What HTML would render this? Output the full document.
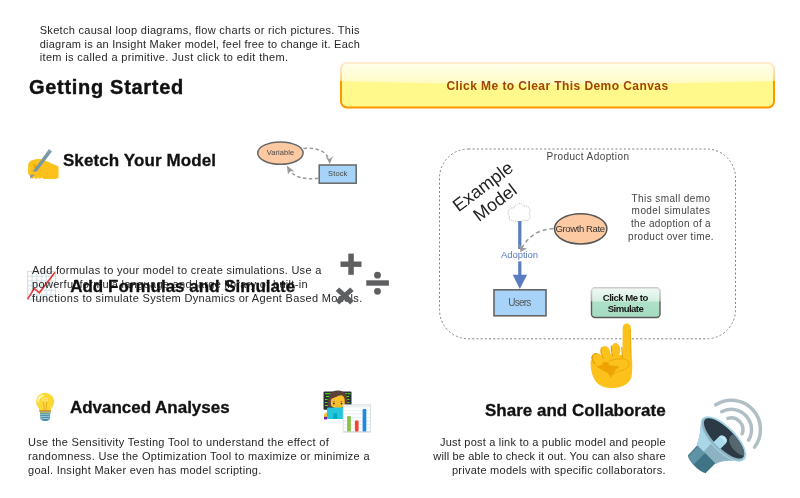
<!DOCTYPE html>
<html><head><meta charset="utf-8">
<style>
html,body{margin:0;padding:0;background:#fff;width:800px;height:498px;overflow:hidden}
svg{display:block;will-change:transform}
text{font-family:"Liberation Sans",sans-serif}
.p{font-size:11px;fill:#262626}
.h{font-size:17px;font-weight:bold;fill:#111;stroke:#111;stroke-width:0.3px}
</style></head><body>
<svg width="800" height="498" viewBox="0 0 800 498">
<defs>
  <linearGradient id="btnY" x1="0" y1="0" x2="0" y2="1">
    <stop offset="0" stop-color="#fff98e"/>
    <stop offset="1" stop-color="#fff88a"/>
  </linearGradient>
  <linearGradient id="gloss" x1="0" y1="0" x2="0" y2="1">
    <stop offset="0" stop-color="#fff" stop-opacity="0.85"/>
    <stop offset="0.7" stop-color="#fff" stop-opacity="0.6"/>
    <stop offset="1" stop-color="#fff" stop-opacity="0.45"/>
  </linearGradient>
  <linearGradient id="btnG" x1="0" y1="0" x2="0" y2="1">
    <stop offset="0" stop-color="#b8e6cf"/>
    <stop offset="1" stop-color="#a4dbc0"/>
  </linearGradient>
  <linearGradient id="gloss2" x1="0" y1="0" x2="0" y2="1">
    <stop offset="0" stop-color="#fff" stop-opacity="0.8"/>
    <stop offset="1" stop-color="#fff" stop-opacity="0.45"/>
  </linearGradient>
</defs>

<!-- top paragraph -->
<text class="p" x="39.7" y="33.9" textLength="319.8" lengthAdjust="spacing">Sketch causal loop diagrams, flow charts or rich pictures. This</text>
<text class="p" x="39.7" y="47.7" textLength="320.2" lengthAdjust="spacing">diagram is an Insight Maker model, feel free to change it. Each</text>
<text class="p" x="39.7" y="61.4" textLength="248.3" lengthAdjust="spacing">item is called a primitive. Just click to edit them.</text>

<text x="29" y="94.2" style="font-size:20px;font-weight:bold;fill:#111;stroke:#111;stroke-width:0.4px" textLength="154.2" lengthAdjust="spacing">Getting Started</text>

<!-- clear button -->
<rect x="341" y="63" width="433" height="44.5" rx="6" fill="url(#btnY)" stroke="#ff9500" stroke-width="2"/>
<path d="M339 81 L339 68 Q339 61 346 61 L769 61 Q776 61 776 68 L776 81 Q557.5 88 339 81 Z" fill="url(#gloss)"/>
<text x="557.3" y="89.7" text-anchor="middle" style="font-size:12px;font-weight:bold;fill:#a0450c;" textLength="221.6" lengthAdjust="spacing">Click Me to Clear This Demo Canvas</text>

<!-- Sketch your model -->
<text class="h" x="62.9" y="166.3" textLength="153.2" lengthAdjust="spacing">Sketch Your Model</text>

<!-- mini diagram -->
<ellipse cx="280.4" cy="153.1" rx="22.7" ry="11.2" fill="#fdc9a3" stroke="#666" stroke-width="1.5"/>
<text x="280.4" y="154.9" text-anchor="middle" style="font-size:7.5px;fill:#484848" textLength="27.3" lengthAdjust="spacing">Variable</text>
<rect x="319.2" y="165" width="37" height="18.2" fill="#a6d3f7" stroke="#666" stroke-width="1.5"/>
<text x="337.7" y="176.2" text-anchor="middle" style="font-size:7.5px;fill:#484848" textLength="19.2" lengthAdjust="spacing">Stock</text>
<path d="M303.5 148.5 C316 147 327 151 329.5 161" fill="none" stroke="#999" stroke-width="1.5" stroke-dasharray="3.5 2.5"/>
<path d="M325.5 156 L329.8 164 L333 156 L329.6 159 Z" fill="#999"/>
<path d="M318.5 178.2 C303 180 293 177 288 168" fill="none" stroke="#999" stroke-width="1.5" stroke-dasharray="3.5 2.5"/>
<path d="M286.8 165.5 L288 174.5 L290.3 171 L294.5 171.5 Z" fill="#999"/>

<!-- chart up (under paragraph) -->
<g id="chartup" stroke="#cdd9e0" stroke-width="0.8" fill="none">
  <rect x="27.5" y="271.5" width="28" height="28" fill="#fdfeff"/>
  <path d="M32.2 271.5V299.5M36.9 271.5V299.5M41.6 271.5V299.5M46.3 271.5V299.5M51 271.5V299.5M27.5 276.2H55.5M27.5 280.9H55.5M27.5 285.6H55.5M27.5 290.3H55.5M27.5 295H55.5"/>
  <path d="M27.6 299.2 L34.3 288.4 L39.3 292.8 L55 272.2" stroke="#e53935" stroke-width="1.6" stroke-linejoin="miter"/>
</g>

<!-- Add formulas -->
<text class="p" x="32.1" y="274.1" textLength="289.2" lengthAdjust="spacing">Add formulas to your model to create simulations. Use a</text>
<text class="p" x="32.1" y="287.7" textLength="275.4" lengthAdjust="spacing">powerful formula language and large library of built-in</text>
<text class="p" x="32.1" y="301.8" textLength="330.1" lengthAdjust="spacing">functions to simulate System Dynamics or Agent Based Models.</text>
<text class="h" x="70.2" y="291.8" textLength="225.0" lengthAdjust="spacing">Add Formulas and Simulate</text>

<!-- math symbols -->
<g fill="#5e5f61">
  <rect x="340.5" y="261.5" width="21" height="5.4"/>
  <rect x="348.3" y="253.6" width="5.5" height="21.2"/>
  <rect x="366.3" y="280.3" width="22.6" height="5.4"/>
  <circle cx="377.5" cy="275.2" r="3.4"/>
  <circle cx="377.5" cy="291.3" r="3.4"/>
  <path d="M335.7 291 L339.2 287.4 L344.7 292.4 L350.2 287.4 L353.7 291 L348.4 295.7 L353.7 300.7 L350.2 304.4 L344.7 299.2 L339.2 304.4 L335.7 300.7 L341 295.7 Z"/>
</g>

<!-- Advanced Analyses -->
<text class="h" x="70" y="413" textLength="159.6" lengthAdjust="spacing">Advanced Analyses</text>
<text class="p" x="28" y="445.9" textLength="300.7" lengthAdjust="spacing">Use the Sensitivity Testing Tool to understand the effect of</text>
<text class="p" x="28" y="459.8" textLength="341.5" lengthAdjust="spacing">randomness. Use the Optimization Tool to maximize or minimize a</text>
<text class="p" x="28" y="473.8" textLength="233.3" lengthAdjust="spacing">goal. Insight Maker even has model scripting.</text>

<!-- Share and collaborate -->
<text class="h" x="665.6" y="416.2" text-anchor="end" textLength="180.6" lengthAdjust="spacing">Share and Collaborate</text>
<text class="p" x="665.6" y="445.9" text-anchor="end" textLength="225.5" lengthAdjust="spacing">Just post a link to a public model and people</text>
<text class="p" x="665.6" y="459.8" text-anchor="end" textLength="232.3" lengthAdjust="spacing">will be able to check it out. You can also share</text>
<text class="p" x="665.6" y="473.8" text-anchor="end" textLength="213.6" lengthAdjust="spacing">private models with specific collaborators.</text>

<!-- Product adoption container -->
<rect x="439.5" y="149" width="296" height="189.8" rx="29" fill="none" stroke="#808080" stroke-width="1" stroke-dasharray="2 2.2"/>
<text x="587.8" y="160" text-anchor="middle" style="font-size:10px;fill:#444" textLength="82.4" lengthAdjust="spacing">Product Adoption</text>
<g style="font-size:10px;fill:#444" text-anchor="middle">
<text x="670.8" y="201.5" textLength="78.4" lengthAdjust="spacing">This small demo</text>
<text x="670.8" y="214.4" textLength="78.4" lengthAdjust="spacing">model simulates</text>
<text x="670.8" y="227.3" textLength="79.7" lengthAdjust="spacing">the adoption of a</text>
<text x="670.8" y="240.2" textLength="85.5" lengthAdjust="spacing">product over time.</text>
</g>
<text transform="translate(488.3 193.8) rotate(-37)" text-anchor="middle" style="font-size:18px;fill:#222">
  <tspan x="0" y="-3">Example</tspan><tspan x="0" y="17">Model</tspan>
</text>

<!-- cloud -->
<path d="M510 217 C506 213 509 207 514 208 C515 203 522 202 524 206 C529 205 532 210 529 214 C532 218 528 222 524 220 C520 223 514 222 512 220 C509 221 508 219 510 217 Z" fill="#fff" stroke="#aaa" stroke-width="0.8" stroke-dasharray="1 1"/>
<!-- flow -->
<rect x="518.2" y="221" width="3.2" height="28" fill="#5a7cc0"/>
<rect x="518.2" y="261.4" width="3.2" height="14" fill="#5a7cc0"/>
<path d="M512.7 274.8 L527.1 274.8 L519.8 289 Z" fill="#5a7cc0"/>
<text x="519.5" y="257.8" text-anchor="middle" style="font-size:9.5px;fill:#5a7cc0" textLength="37.0" lengthAdjust="spacing">Adoption</text>

<!-- growth rate -->
<path d="M553.5 228.6 C540 229 528 236 522 248" fill="none" stroke="#999" stroke-width="1.5" stroke-dasharray="4 3"/>
<path d="M519 244 L520.5 252 L527 248.5 L522.8 247.7 Z" fill="#999"/>
<ellipse cx="580.7" cy="228.8" rx="26.2" ry="15.1" fill="#fdc9a3" stroke="#555" stroke-width="1.5"/>
<text x="580.3" y="232" text-anchor="middle" style="font-size:9.5px;fill:#333" textLength="49.4" lengthAdjust="spacing">Growth Rate</text>

<!-- users -->
<rect x="494" y="289.8" width="52" height="26" fill="#a6d3f7" stroke="#666" stroke-width="1.6"/>
<text x="519.8" y="305.5" text-anchor="middle" style="font-size:10px;fill:#555" textLength="23.0" lengthAdjust="spacing">Users</text>

<!-- simulate button -->
<rect x="591.5" y="288" width="68.5" height="29.5" rx="3.5" fill="url(#btnG)" stroke="#5a5a5a" stroke-width="1.4"/>
<path d="M590.6 301.5 L590.6 291 Q590.6 287.2 594.5 287.2 L657 287.2 Q660.9 287.2 660.9 291 L660.9 301.5 Z" fill="url(#gloss2)"/>
<g style="font-size:9.6px;font-weight:bold;fill:#151515" text-anchor="middle">
<text x="625.5" y="300.8" textLength="45.5" lengthAdjust="spacing">Click Me to</text>
<text x="625.8" y="311.6" textLength="36.1" lengthAdjust="spacing">Simulate</text>
</g>

<!-- ===== EMOJI ===== -->
<!-- writing hand -->
<g id="writehand">
  <path d="M28.3 163.5 C29.5 161 32 160 35 159.4 C38 158.8 41 158.9 44 160 C48 161.5 52 163.8 55 165 L58.5 166.3 L58.6 177.2 C58.2 178.4 56.8 178.8 54 178.9 L44 178.9 C43 178.8 42 178.2 41.5 177.3 L40.5 178.6 C39.5 179 38.6 178.6 38 177.6 L37 178.8 C36 179.2 35 178.6 34.5 177.5 L33 178.5 C31.5 178.6 30.5 177.5 30 176 C28.8 175 28.2 173 28 170.5 Z" fill="#fcc21b"/>
  <path d="M31.8 163.5 C33.5 164.5 34.5 166.5 34.5 169 L37 167 C36.5 165 34.5 163.8 31.8 163.5 Z" fill="#eda600"/>
  <path d="M48.9 149.3 L51.9 151.6 L33.5 176.1 L30 178.8 L30.6 174.3 Z" fill="#7b98a7"/>
  <path d="M48.9 149.3 L51.9 151.6 L50.9 152.9 L47.9 150.6 Z" fill="#8fa9b6"/>
  <path d="M28.3 171.3 C31 171.6 34 171.8 37.5 171.4 L37.5 174.3 C34 174.8 31 174.8 28.4 174.3 Z" fill="#fcc21b"/>
</g>

<!-- lightbulb -->
<g id="bulb">
  <path d="M39.6 411 C39.2 407.5 36 405.5 36 401.8 A9.15 9.15 0 1 1 54.3 401.8 C54.3 405.5 51.1 407.5 50.7 411 Z" fill="#fdd835"/>
  <path d="M37.5 401.5 C37 397 39.5 394.5 43.5 395 C44.5 395.5 44 396.5 43 396.8 C40.5 397.5 39.2 399 39 402 C38.7 403 37.7 403 37.5 401.5 Z" fill="#fff6a8"/>
  <path d="M43.2 400.5 C42.3 398.8 44.2 397.6 45.2 399 C46 397.6 48 398.8 47.2 400.5 C46.5 401.8 44 401.8 43.2 400.5 Z" fill="none" stroke="#fff4c0" stroke-width="0.8"/>
  <path d="M43.6 401.5 L44.3 410.5 M46.8 401.5 L46.1 410.5" stroke="#e1a21b" stroke-width="0.8"/>
  <rect x="39.3" y="410.3" width="11.7" height="1.5" fill="#c8842c"/>
  <path d="M40 411.8 L50.4 411.8 L50 418.5 C49 420.5 47.5 421 45.2 421 C43 421 41.3 420.5 40.4 418.5 Z" fill="#4d8ea6"/>
  <rect x="40" y="411.8" width="10.4" height="1.4" fill="#a9bb5c"/>
  <path d="M40.3 414.5 L50.1 414 M40.4 416.7 L50 416.2 M40.8 418.8 L49.6 418.3" stroke="#9fd0e0" stroke-width="0.9"/>
</g>

<!-- technologist + chart -->
<g id="tech">
  <rect x="323.5" y="391.5" width="28" height="18.2" rx="1" fill="#263238"/>
  <path d="M325 393.8h6M326 396.5h3M325 399.5h2.5M325 402.5h2.5M325 405.5h3M345 393.8h2.5M348 393.8h2.5M346 396.5h3M346.5 399.5h3M347 402.5h2.5" stroke="#64dd17" stroke-width="1.1"/>
  <path d="M328.4 407 C327 397 330 390.4 337.8 390.4 C345.5 390.4 348.8 397 347.4 407 Z" fill="#5d4037"/>
  <path d="M330.8 401 C331 398 333.5 398 336 397 C339 396 341 394.5 343 396 C344.5 397.5 344.7 399 344.7 401 L344.7 404 C344.7 406.5 341.8 408.3 337.8 408.3 C333.8 408.3 330.8 406.5 330.8 404 Z" fill="#fbc02d"/>
  <path d="M332.8 401.7h2.2M340.4 401.7h2.2" stroke="#6d4c41" stroke-width="0.6"/>
  <circle cx="333.9" cy="403.6" r="0.85" fill="#3b2a22"/>
  <circle cx="341.5" cy="403.6" r="0.85" fill="#3b2a22"/>
  <circle cx="337.7" cy="406" r="0.5" fill="#e59600"/>
  <path d="M325 418.5 C323.5 417 323.5 414 326 412.5 L328 413 L328 418.5 Z" fill="#fbc02d"/>
  <rect x="324" y="416.8" width="3" height="2.6" fill="#7b1fa2"/>
  <rect x="327" y="407.6" width="16.5" height="11.5" rx="0.8" fill="#26c6da"/>
  <path d="M333 419 L333.5 414 C334 412.5 336.5 412.5 337 414 L337.5 419 Z" fill="#00acc1"/>
  <rect x="343.2" y="404.8" width="27.3" height="27.4" fill="#fff" stroke="#cfd8dc" stroke-width="0.8"/>
  <rect x="343.6" y="405.2" width="26.5" height="2.2" fill="#eceff1"/>
  <path d="M343.6 410.5h26.5M343.6 414h26.5M343.6 417.5h26.5M343.6 421h26.5M343.6 424.5h26.5M343.6 428h26.5" stroke="#dfe6ea" stroke-width="0.7"/>
  <path d="M344 431.5h26" stroke="#cfd8dc" stroke-width="0.8"/>
  <rect x="347.1" y="415.9" width="3.8" height="15.5" rx="1" fill="#8bc34a"/>
  <rect x="354.9" y="420.6" width="3.7" height="10.8" rx="1" fill="#f44336"/>
  <rect x="362.6" y="409" width="3.7" height="22.4" rx="1" fill="#1e88e5"/>
</g>

<!-- pointing hand -->
<g id="point">
  <path d="M622.2 372 L622.7 328 C622.8 325.3 624.6 323.6 626.8 323.6 C629 323.6 630.7 325.3 630.8 328 L631.9 372 Z" fill="#fcc21b"/>
  <path d="M630.3 329 L631.2 370" stroke="#f0aa10" stroke-width="0.9" fill="none"/>
  <path d="M622.5 355 L632 358 C632.5 366 632.4 372 631.5 377 C629.5 384 622 387.5 614 388 C607 388.6 601 387 597 383 C592.5 378 590.5 370 590.6 362 C591 359 595 357 600 357 L612 354 Z" fill="#fcc21b"/>
  <path d="M594 364 C597 367 603 371 608 373 L611 378 C612 374 614 370 618 368 L620 366 C612 362 604 361 596 362 Z" fill="#eea300"/>
  <g fill="#fcc21b">
    <ellipse cx="597.3" cy="359.5" rx="5.6" ry="6.8" transform="rotate(-35 597.3 359.5)"/>
    <ellipse cx="605.6" cy="352.8" rx="4.8" ry="7" transform="rotate(-18 605.6 352.8)"/>
    <ellipse cx="616" cy="349.5" rx="4.3" ry="6.6" transform="rotate(-8 616 349.5)"/>
  </g>
  <g fill="none" stroke="#e3a00a" stroke-width="1.1">
    <path d="M591.6 358 C592.5 355 594.5 353.5 597 353.5"/>
    <path d="M601.6 347.5 C600.5 350.5 601.5 355 603.5 358.5"/>
    <path d="M611.5 345.5 C611 349 611.5 353 613 356"/>
    <path d="M621.8 347 C622 351 622.2 355 622.5 358"/>
    <path d="M592.5 356 C592 359 593 362 595 364"/>
  </g>
  <path d="M629 362 C627 358.5 622 358.5 617 359 L610.5 360.5 C608 361.5 607.5 364 609.5 365.5 C612 366.5 616 366 619 366.8 C616.5 368.5 614 371 612.5 375 C615 373 619 370.5 623 370 C627 369 630 366 629 362 Z" fill="#fcc21b" stroke="#e6a50c" stroke-width="0.9"/>
</g>

<!-- speaker -->
<g id="speaker">
  <g stroke="#b0bec5" stroke-width="3.5" stroke-linecap="round" fill="none">
    <path d="M715.7 404.8 A29.2 29.2 0 0 1 754.5 447.2"/>
    <path d="M721.7 411.7 A20.3 20.3 0 0 1 748.6 440.1"/>
    <path d="M727.8 418.4 A11.7 11.7 0 0 1 742.1 433.8"/>
  </g>
  <g transform="translate(723.5 438.9) rotate(-45)">
    <defs><clipPath id="spkIn"><ellipse cx="0.8" cy="0" rx="9.8" ry="26.8"/></clipPath></defs>
    <path d="M-37 -13.5 L-21 -14 L-21 11.5 L-37 11.5 C-40.5 6 -40.5 -8 -37 -13.5 Z" fill="#3f7486"/>
    <path d="M-37.5 -12.5 L-21 -13 L-21 -3 L-39 -3 C-39.5 -6 -39 -10 -37.5 -12.5 Z" fill="#5e92a5"/>
    <path d="M-23 -15 C-14 -18 -8 -25 -2 -29 L0 0 L-2 28 C-8 24 -15 14 -23 12.5 Z" fill="#8db2c2"/>
    <path d="M-23 -15 C-14 -18 -8 -25 -2 -29 L-4 -6 L-23 -5 Z" fill="#a9d7e8"/>
    <ellipse cx="0" cy="0" rx="12.6" ry="29.6" fill="#a6d4e7"/>
    <ellipse cx="-0.6" cy="0" rx="11" ry="28" fill="#8fb1c0"/>
    <ellipse cx="0.8" cy="0" rx="9.8" ry="26.8" fill="#2b3a44"/>
    <ellipse cx="7" cy="16" rx="7.5" ry="13" fill="#56686f" clip-path="url(#spkIn)"/>
    <path d="M-9.5 -4.8 L-2 -4.8 C1 -4.8 2.5 -2.5 2.5 0 C2.5 2.5 1 4.8 -2 4.8 L-9.5 4.8 Z" fill="#a8dced"/>
    <path d="M-2 -4.5 C1 -4.5 2.5 -2.5 2.5 0 C2.5 2.5 1 4.5 -2 4.5 C-0.5 3 -0.5 -3 -2 -4.5 Z" fill="#bfe8f5"/>
  </g>
</g>

</svg>
</body></html>
